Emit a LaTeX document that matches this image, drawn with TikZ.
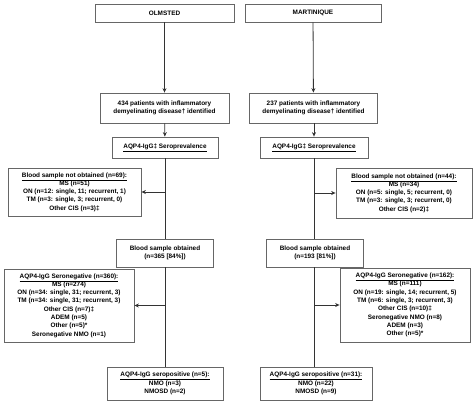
\documentclass[tikz,border=0pt]{standalone}
\usepackage{fontspec}
\setmainfont{Liberation Sans}
\usetikzlibrary{arrows.meta}
\tikzset{
  box/.style={draw=black!60, line width=0.8pt, fill=white, align=center, inner sep=0pt,
    font=\bfseries\fontsize{6.4}{8.3}\selectfont},
  link/.style={draw=black!80, line width=0.8pt},
  tip/.style={link, -{Stealth[length=4.5pt,width=4pt]}}
}
\begin{document}
\begin{tikzpicture}[x=1pt,y=-1pt]
      \useasboundingbox (0,0) rectangle (474,405);
      \draw
        (164.5,13) node[box, minimum width=139, minimum height=18] (olm){OLMSTED}
        (313,13) node[box, minimum width=136, minimum height=18] (mar){MARTINIQUE}
        (164.5,108) node[box, minimum width=129, minimum height=30] (patL){434 patients with inflammatory\\demyelinating disease\textdagger{} identified}
        (313.5,108) node[box, minimum width=128, minimum height=30] (patR){237 patients with inflammatory\\demyelinating disease\textdagger{} identified}
        (165,147.5) node[box, minimum width=106, minimum height=21] (seroL){\underline{AQP4-IgG\textdaggerdbl{} Seroprevalence}}
        (314,147.5) node[box, minimum width=108, minimum height=21] (seroR){\underline{AQP4-IgG\textdaggerdbl{} Seroprevalence}}
        (74.5,192) node[box, minimum width=133, minimum height=48] (notL){\underline{Blood sample not obtained (n=69):}\\MS (n=51)\\ON (n=12: single, 11; recurrent, 1)\\TM (n=3: single, 3; recurrent, 0)\\Other CIS (n=3)\textdaggerdbl}
        (404,193) node[box, minimum width=136, minimum height=50] (notR){\underline{Blood sample not obtained (n=44):}\\MS (n=34)\\ON (n=5: single, 5; recurrent, 0)\\TM (n=3: single, 3; recurrent, 0)\\Other CIS (n=2)\textdaggerdbl}
        (165,253) node[box, minimum width=97, minimum height=28] (bloodL){Blood sample obtained\\(n=365 [84\%])}
        (315,253) node[box, minimum width=97, minimum height=28] (bloodR){Blood sample obtained\\(n=193 [81\%])}
        (69,305.5) node[box, minimum width=130, minimum height=73] (negL){\underline{AQP4-IgG Seronegative (n=360):}\\MS (n=274)\\ON (n=34: single, 31; recurrent, 3)\\TM (n=34: single, 31; recurrent, 3)\\Other CIS (n=7)\textdaggerdbl\\ADEM (n=5)\\Other (n=5)*\\Seronegative NMO (n=1)}
        (405,305) node[box, minimum width=130, minimum height=74] (negR){\underline{AQP4-IgG Seronegative (n=162):}\\MS (n=111)\\ON (n=19: single, 14; recurrent, 5)\\TM (n=6: single, 3; recurrent, 3)\\Other CIS (n=10)\textdaggerdbl\\Seronegative NMO (n=8)\\ADEM (n=3)\\Other (n=5)*}
        (165,383.5) node[box, minimum width=116, minimum height=33] (posL){\underline{AQP4-IgG seropositive (n=5):}\\NMO (n=3)\\NMOSD (n=2)}
        (316,383.5) node[box, minimum width=112, minimum height=33] (posR){\underline{AQP4-IgG seropositive (n=31):}\\NMO (n=22)\\NMOSD (n=9)};
      \begin{scope}[tip]
        \draw (olm) to (patL);
        \draw (mar) to (patR);
        \draw (patL) to (seroL);
        \draw (patR.south -| seroR) to (seroR);
        \draw (seroL.south |- notL.east) to (notL.east);
        \draw (seroR.south |- notR.west) to (notR.west);
        \draw (seroL.south |- negL.east) to (negL.east);
        \draw (seroR.south |- negR.west) to (negR.west);
      \end{scope}
      \begin{scope}[link]
        \draw (seroL.south) to (seroL.south |- bloodL.north);
        \draw (seroR.south) to (seroR.south |- bloodR.north);
        \draw (seroL.south |- bloodL.south) to (seroL.south |- posL.north);
        \draw (seroR.south |- bloodR.south) to (seroR.south |- posR.north);
      \end{scope}
    \end{tikzpicture}
\end{document}
